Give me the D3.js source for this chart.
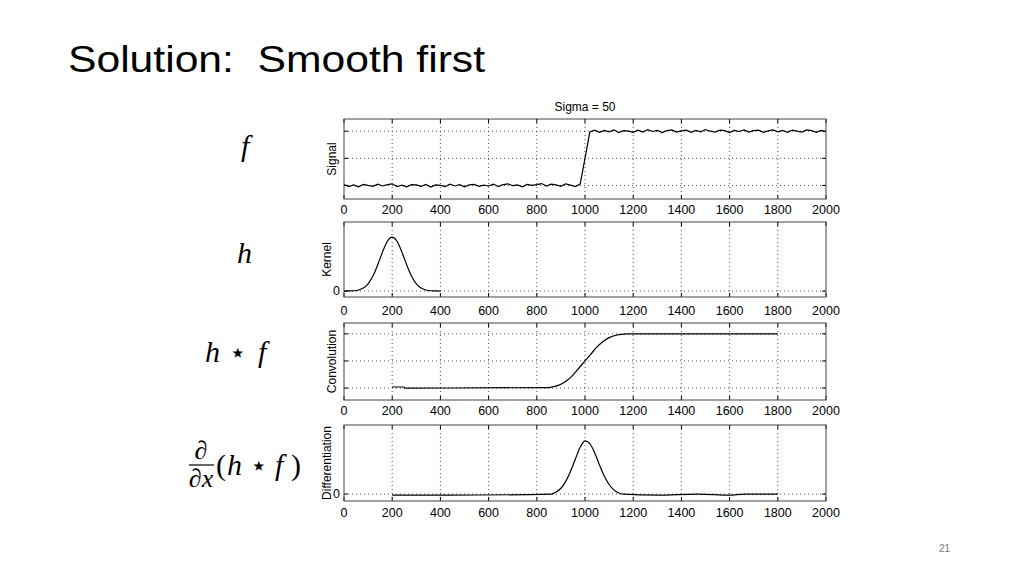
<!DOCTYPE html>
<html><head><meta charset="utf-8">
<script src="https://cdn.jsdelivr.net/npm/d3@7/dist/d3.min.js"></script>
<style>body{margin:0;background:#fff}</style></head>
<body><svg id="c" width="1024" height="576"></svg>
<script>
const xTicks=[0,200,400,600,800,1000,1200,1400,1600,1800,2000];
const signalX=d3.range(0,2001,20);
const signalY=[0.03,-0.04,0.02,-0.05,0.04,0.0,-0.03,0.05,-0.02,0.03,0.06,-0.04,0.01,-0.05,0.03,0.02,-0.03,0.04,-0.06,0.02,
0.0,-0.04,0.05,-0.02,0.03,-0.05,0.02,0.04,-0.03,0.01,-0.02,0.05,-0.04,0.03,0.06,-0.01,0.02,-0.05,0.04,0.0,
0.03,0.07,-0.02,0.05,0.02,-0.03,0.06,0.01,-0.04,0.05,1.0,1.97,2.04,1.96,2.03,1.98,2.05,1.95,2.02,2.0,
1.96,2.04,1.97,2.06,1.99,2.03,1.95,2.02,2.05,1.97,2.01,2.04,1.96,2.03,1.98,2.06,2.0,1.97,2.04,2.02,
1.95,2.03,1.99,2.05,1.97,2.02,2.04,1.96,2.01,2.05,1.98,2.03,1.96,2.04,2.0,1.97,2.05,2.02,1.96,2.03,1.98];
const kernelX=[0,20,40,60,80,100,120,140,160,180,200,220,240,260,280,300,320,340,360,380,400];
const kernelY=[0.0,0.002,0.006,0.02,0.056,0.135,0.278,0.487,0.726,0.923,1.0,0.923,0.726,0.487,0.278,0.135,0.056,0.02,0.006,0.002,0.0];
const convX=[200,250,251,850,875,900,925,950,975,1000,1025,1050,1075,1100,1125,1150,1175,1800];
const convY=[0.02,0.02,0.0,0.01,0.03,0.07,0.14,0.24,0.37,0.5,0.63,0.76,0.86,0.93,0.97,0.99,1.0,1.0];
const diffX=[200,430,860,880,900,920,940,960,980,1000,1020,1040,1060,1080,1100,1120,1140,1160,1300,1470,1600,1660,1800];
const diffY=[-0.02,-0.02,0.0,0.04,0.11,0.24,0.43,0.66,0.88,1.0,0.95,0.78,0.55,0.34,0.18,0.08,0.02,0.0,-0.02,0.0,-0.02,0.0,0.0];
const svg=d3.select("#c");
svg.append("text").attr("x",68).attr("y",72).attr("font-family","Liberation Sans, Arial").attr("font-size",37).attr("textLength",417).attr("lengthAdjust","spacingAndGlyphs").text("Solution:\u00a0\u00a0Smooth first");
svg.append("text").attr("x",939).attr("y",552).attr("font-family","Liberation Sans").attr("font-size",10).attr("fill","#777").text("21");
svg.append("text").attr("x",585).attr("y",111).attr("text-anchor","middle").attr("font-family","Liberation Sans").attr("font-size",12).text("Sigma = 50");
const x=d3.scaleLinear().domain([0,2000]).range([344,826]);
const panels=[
 {top:119,bot:199,dom:[-0.5,2.45],yt:[0,1,2],lab:[],name:"Signal",xs:signalX,ys:signalY,ty:210,c:d3.curveLinear},
 {top:222,bot:297,dom:[-0.11,1.28],yt:[0],lab:["0"],name:"Kernel",xs:kernelX,ys:kernelY,ty:311,c:d3.curveMonotoneX},
 {top:323,bot:400,dom:[-0.22,1.2],yt:[0,0.5,1],lab:[],name:"Convolution",xs:convX,ys:convY,ty:411,c:d3.curveMonotoneX},
 {top:425,bot:501,dom:[-0.13,1.3],yt:[0],lab:["0"],name:"Differentiation",xs:diffX,ys:diffY,ty:513,c:d3.curveMonotoneX}];
const ff="Liberation Sans, Arial";
panels.forEach(p=>{
 const y=d3.scaleLinear().domain(p.dom).range([p.bot,p.top]);
 const g=svg.append("g");
 g.selectAll(".gx").data(xTicks.slice(1,-1)).join("line").attr("x1",d=>x(d)).attr("x2",d=>x(d)).attr("y1",p.top).attr("y2",p.bot).attr("stroke","#222").attr("stroke-width",0.8).attr("stroke-dasharray","1,3");
 g.selectAll(".gy").data(p.yt).join("line").attr("x1",344).attr("x2",826).attr("y1",d=>y(d)).attr("y2",d=>y(d)).attr("stroke","#222").attr("stroke-width",0.8).attr("stroke-dasharray","1,3");
 xTicks.forEach(t=>{g.append("line").attr("x1",x(t)).attr("x2",x(t)).attr("y1",p.bot).attr("y2",p.bot-4).attr("stroke","#000");
   g.append("line").attr("x1",x(t)).attr("x2",x(t)).attr("y1",p.top).attr("y2",p.top+4).attr("stroke","#000");
   g.append("text").attr("x",x(t)).attr("y",p.ty+4).attr("text-anchor","middle").attr("font-family",ff).attr("font-size",12.5).text(t);});
 p.yt.forEach(t=>{g.append("line").attr("x1",344).attr("x2",348).attr("y1",y(t)).attr("y2",y(t)).attr("stroke","#000");
   g.append("line").attr("x1",826).attr("x2",822).attr("y1",y(t)).attr("y2",y(t)).attr("stroke","#000");});
 p.lab.forEach((l,i)=>g.append("text").attr("x",340).attr("y",y(p.yt[i])+4).attr("text-anchor","end").attr("font-family",ff).attr("font-size",12.5).text(l));
 g.append("path").datum(p.xs.map((v,i)=>[v,p.ys[i]])).attr("fill","none").attr("stroke","#000").attr("stroke-width",1.2)
  .attr("d",d3.line().curve(p.c).x(d=>x(d[0])).y(d=>y(d[1])));
 g.append("rect").attr("x",344).attr("y",p.top).attr("width",482).attr("height",p.bot-p.top).attr("fill","none").attr("stroke","#444").attr("stroke-width",1);
 const cy=(p.top+p.bot)/2;
 g.append("text").attr("transform",`translate(${p.lab.length?331:336},${cy}) rotate(-90)`).attr("text-anchor","middle").attr("font-family",ff).attr("font-size",12).text(p.name);
});
const mf="Liberation Serif, DejaVu Serif";
const it=(xx,yy,t,s)=>svg.append("text").attr("x",xx).attr("y",yy).attr("font-family",mf).attr("font-style","italic").attr("font-size",s||30).text(t);
it(241,156,"f");
it(237,263,"h");
it(205,362,"h");it(229,362,"\u22c6",28).attr("font-style","normal");it(258,362,"f");
svg.append("text").attr("x",201).attr("y",459).attr("text-anchor","middle").attr("font-family",mf).attr("font-size",26).text("∂");
svg.append("line").attr("x1",189).attr("x2",214).attr("y1",465).attr("y2",465).attr("stroke","#000").attr("stroke-width",1.2);
it(201,487,"∂x",26).attr("text-anchor","middle");
svg.append("text").attr("x",216).attr("y",475).attr("font-family",mf).attr("font-size",30).text("(");
it(227,475,"h");it(250,475,"\u22c6",28).attr("font-style","normal");it(275,475,"f");
svg.append("text").attr("x",291).attr("y",475).attr("font-family",mf).attr("font-size",30).text(")");
</script></body></html>
